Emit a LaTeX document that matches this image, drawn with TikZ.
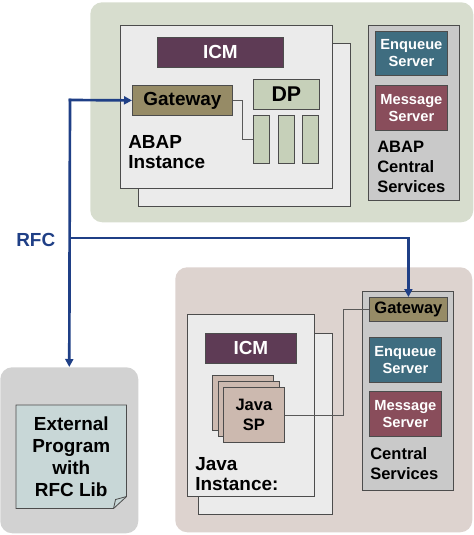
\documentclass[tikz,border=0pt]{standalone}
\usepackage{fontspec}
\setmainfont{Liberation Sans}
\usetikzlibrary{arrows.meta,calc}

\definecolor{abapbg}{HTML}{D7DDCE}
\definecolor{javabg}{HTML}{DDD3CF}
\definecolor{extbg}{HTML}{D2D2D2}
\definecolor{instgray}{HTML}{EBEBEB}
\definecolor{csgray}{HTML}{C9C9C9}
\definecolor{icmcol}{HTML}{5E3B55}
\definecolor{gwcol}{HTML}{968B66}
\definecolor{dpcol}{HTML}{C6D0B9}
\definecolor{enqcol}{HTML}{3F6D80}
\definecolor{msgcol}{HTML}{894D5B}
\definecolor{spcol}{HTML}{CCB9AF}
\definecolor{notecol}{HTML}{C8D7D7}
\definecolor{rfcblue}{HTML}{1F3F86}

\newcommand{\bigtxt}{\bfseries\fontsize{14.2}{15.5}\selectfont}
\newcommand{\midtxt}{\bfseries\fontsize{12.4}{15}\selectfont}
\newcommand{\smltxt}{\bfseries\fontsize{11}{12.75}\selectfont}

\tikzset{
  blk/.style 2 args={minimum width=#1*0.75pt, minimum height=#2*0.75pt,
    inner sep=0pt, anchor=north west},
  panel/.style={rounded corners=9pt},
  box/.style={draw=black!70, line width=0.6pt},
  lbl/.style={align=left, anchor=north west, inner sep=0pt},
  wire/.style={draw=black!65, line width=0.6pt},
  rfc/.style={draw=rfcblue, line width=2pt, line cap=rect},
  rfcarrow/.style={rfc, -{Triangle[length=6pt,width=6pt]}}
}

\begin{document}
\begin{tikzpicture}[x=0.75pt,y=-0.75pt]
\useasboundingbox (0,0) rectangle (474,535);

% background panels
\node[panel, fill=abapbg, blk={383}{220}] (abappanel) at (90,2) {};
\node[panel, fill=javabg, blk={297}{265}] (javapanel) at (175,267) {};
\node[panel, fill=extbg, blk={138}{166}] (extbox) at (0,367) {};

% ABAP instance
\node[box, fill=instgray, blk={212}{163}] (abapback) at (138,43) {};
\node[box, fill=instgray, blk={212}{163}] (abapinst) at (120,25) {};
\node[box, fill=icmcol, text=white, blk={126}{30}, font=\bigtxt] (icmA) at (157,37) {ICM};
\node[box, fill=gwcol, blk={100}{30}, font=\bigtxt] (gwA) at (132,85) {Gateway};
\node[box, fill=dpcol, blk={66}{30}, font=\bfseries\fontsize{16}{16}\selectfont] (dp) at (253,79) {DP};
\foreach \i/\x in {1/253,2/278,3/302}
  \node[box, fill=dpcol, blk={16}{48}] (bar\i) at (\x,115) {};
\node[lbl, font=\bigtxt] (abaplbl) at (128,135) {ABAP\\Instance};
\draw[wire] (gwA.east) -- ++(10,0) |- (bar1.west);

% ABAP central services
\node[box, fill=csgray, blk={91}{175}] (ascs) at (368,25) {};
\node[box, fill=enqcol, text=white, blk={72}{44}, align=center, font=\smltxt] (enqA) at (375,31) {Enqueue\\Server};
\node[box, fill=msgcol, text=white, blk={72}{45}, align=center, font=\smltxt] (msgA) at (375,85) {Message\\Server};
\node[lbl, font=\midtxt] (ascslbl) at (377,141) {ABAP\\Central\\Services};

% Java instance
\node[box, fill=instgray, blk={134}{181}] (javaback) at (198,333) {};
\node[box, fill=instgray, blk={127}{182}] (javainst) at (187,314) {};
\node[box, fill=icmcol, text=white, blk={91}{30}, font=\bigtxt] (icmJ) at (205,333) {ICM};
\foreach \i in {0,1,2}
  \node[box, fill=spcol, blk={61}{55}] (sp\i) at (212+5.5*\i,375+6*\i) {};
\node[align=center, font=\midtxt] (splbl) at (sp2) {Java\\SP};
\node[lbl, font=\bigtxt] (javalbl) at (195,457) {Java\\Instance:};

% Java central services
\node[box, fill=csgray, blk={91}{199}] (cs) at (362,291) {};
\node[box, fill=gwcol, blk={78}{24}, font=\midtxt] (gwJ) at (369,297) {Gateway};
\node[box, fill=enqcol, text=white, blk={72}{45}, align=center, font=\smltxt] (enqJ) at (369,337) {Enqueue\\Server};
\node[box, fill=msgcol, text=white, blk={72}{45}, align=center, font=\smltxt] (msgJ) at (369,391) {Message\\Server};
\node[lbl, font=\midtxt] (cslbl) at (370,447) {Central\\Services};
\draw[wire] (sp2.east) -- ++(59,0) |- (gwJ.west);

% external program (note with folded corner)
\node[blk={110}{103}] (note) at (16,405) {};
\coordinate (foldA) at ($(note.south east)+(0,-12)$);
\coordinate (foldB) at ($(note.south east)+(-13,0)$);
\draw[box, fill=notecol] (note.north west) -- (note.north east) -- (foldA) -- (foldB) -- (note.south west) -- cycle;
\draw[box] (foldA) -- ($(foldA)+(-11,3)$) -- (foldB);
\node[align=center, font=\bfseries\fontsize{14.2}{16.5}\selectfont] (notetxt) at (note) {External\\Program\\with\\RFC Lib};

% RFC connections
\coordinate (rfcA) at (70,100);
\coordinate (rfcB) at (70,238);
\node[anchor=west, inner sep=0pt, text=rfcblue, font=\bigtxt] (rfclbl) at (16,240) {RFC};
\draw[rfcarrow] (rfcA) -- (gwA.west);
\draw[rfcarrow] (rfcA) -- (extbox.north);
\draw[rfcarrow] (rfcB) -| (gwJ.north);
\end{tikzpicture}
\end{document}
